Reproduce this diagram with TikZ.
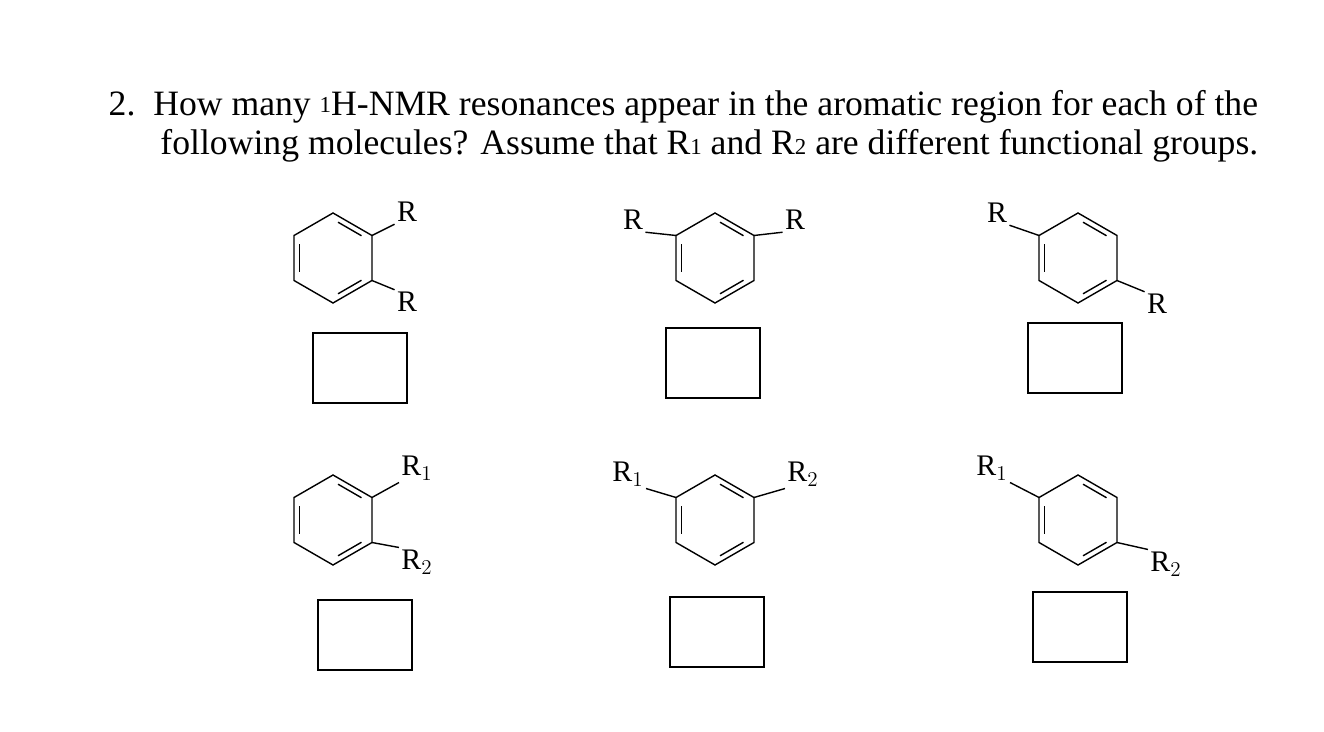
\documentclass[tikz,border=0pt]{standalone}
\usepackage{fontspec}
\setmainfont{Liberation Serif}
\usetikzlibrary{calc}

% benzene ring: #1 = name, #2 = centre (pixel coords)
\newcommand{\benz}[2]{%
  \foreach \a/\n in {-90/t,-30/tr,30/br,90/b,150/bl,-150/tl}
    \coordinate (#1\n) at ($(#2)+(\a:45)$);
  \draw (#1t) -- (#1tr) -- (#1br) -- (#1b) -- (#1bl) -- (#1tl) -- cycle;
  \coordinate (#1c) at (#2);
  \foreach \p/\q in {t/tr,br/b,bl/tl}
    \draw ($(#1\p)!0.15!(#1\q)!0.14!(#1c)$) -- ($(#1\q)!0.15!(#1\p)!0.14!(#1c)$);
}
\newcommand{\smalldig}[1]{{\fontsize{13}{13}\selectfont #1}}

\tikzset{
  lab/.style={inner sep=1pt, font=\fontsize{17}{19}\selectfont},
  answer/.style={draw, line width=0.8pt, minimum width=94\pxu, minimum height=70\pxu, inner sep=0pt},
}
\def\pxu{*0.02cm}

\begin{document}
\begin{tikzpicture}[x=0.02cm,y=-0.02cm, line width=0.8pt]
  \useasboundingbox (0,0) rectangle (1324,732);

  \node[anchor=north west, inner sep=0pt, font=\fontsize{20.3}{20.3}\selectfont, align=left] (Q) at (108,90)
    {2.\hspace{0.5em}How many \raisebox{2pt}{\smalldig{1}}H-NMR resonances appear in the aromatic region for each of the\\[2pt]
     \hspace{1.45em}following molecules? Assume that R\smalldig{1} and R\smalldig{2} are different functional groups.};

  % first row
  \benz{o}{333,258}
  \node[lab] (oR1) at (407,212) {R};
  \node[lab] (oR2) at (407,302) {R};
  \draw (otr) -- (oR1.south west);
  \draw (obr) -- (oR2.north west);

  \benz{m}{715,258}
  \node[lab] (mR1) at (633,220) {R};
  \node[lab] (mR2) at (795,220) {R};
  \draw (mtl) -- (mR1.south east);
  \draw (mtr) -- (mR2.south west);

  \benz{p}{1078,258}
  \node[lab] (pR1) at (997,213) {R};
  \node[lab] (pR2) at (1157,304) {R};
  \draw (ptl) -- (pR1.south east);
  \draw (pbr) -- (pR2.north west);

  % second row
  \benz{oo}{333,520}
  \node[lab] (ooR1) at (417,468) {R$_1$};
  \node[lab] (ooR2) at (417,562) {R$_2$};
  \draw (ootr) -- (ooR1.south west);
  \draw (oobr) -- (ooR2.north west);

  \benz{mm}{715,520}
  \node[lab] (mmR1) at (628,474) {R$_1$};
  \node[lab] (mmR2) at (803,474) {R$_2$};
  \draw (mmtl) -- (mmR1.south east);
  \draw (mmtr) -- (mmR2.south west);

  \benz{pp}{1078,520}
  \node[lab] (ppR1) at (992,468) {R$_1$};
  \node[lab] (ppR2) at (1166,564) {R$_2$};
  \draw (pptl) -- (ppR1.south east);
  \draw (ppbr) -- (ppR2.north west);

  % answer boxes
  \node[answer] (A1) at (360,368) {};
  \node[answer] (A2) at (713,363) {};
  \node[answer] (A3) at (1075,358) {};
  \node[answer] (A4) at (365,635) {};
  \node[answer] (A5) at (717,632) {};
  \node[answer] (A6) at (1080,627) {};
\end{tikzpicture}
\end{document}
